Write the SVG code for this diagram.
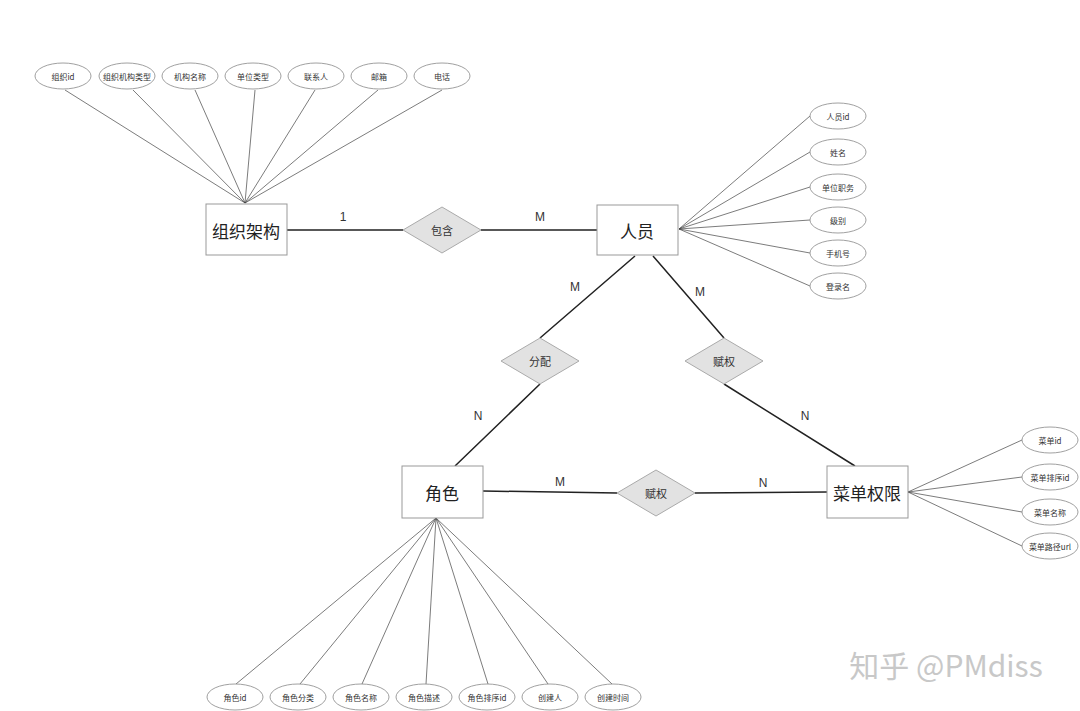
<svg xmlns="http://www.w3.org/2000/svg" width="1080" height="711" viewBox="0 0 1080 711">
<style>
text{font-family:"Noto Sans CJK SC","Liberation Sans",sans-serif;text-anchor:middle;dominant-baseline:central;fill:#333}
.e{fill:#fff;stroke:#888;stroke-width:0.8}
.et{font-size:8px}
.b{fill:#fff;stroke:#999;stroke-width:1}
.bt{font-size:17px;fill:#222}
.d{fill:#e2e2e2;stroke:#aaa;stroke-width:1}
.dt{font-size:11px}
.t{stroke:#444;stroke-width:0.7;fill:none}
.k{stroke:#222;stroke-width:1.5;fill:none}
.lb{font-size:12px;font-family:"Liberation Sans",sans-serif}
</style>
<rect width="1080" height="711" fill="#fff"/>
<g id="connectors">
<path class="t" d="M65 90L245 203M133 90L245 203M195 90L245 203M255 90L245 203M315 90L245 203M378 90L245 203M442 90L245 203"/>
<path class="t" d="M679 229L810 116M679 229L810 152M679 229L810 187M679 229L810 220M679 229L810 253M679 229L810 286"/>
<path class="t" d="M908 492L1022 440M908 492L1022 477M908 492L1022 512M908 492L1022 546"/>
<path class="t" d="M436 518L236 684M436 518L300 684M436 518L362 684M436 518L426 684M436 518L488 684M436 518L548 684M436 518L612 684"/>
<path class="k" d="M287 230L403 230M481 230L597 230M635 256L540 338M540 384L455 466M653 256L724 338M724 384L855 466M483 491L617 493M695 493L827 492"/>
<text class="lb" x="343" y="217">1</text><text class="lb" x="540" y="217">M</text>
<text class="lb" x="575" y="287">M</text><text class="lb" x="700" y="292">M</text>
<text class="lb" x="478" y="416">N</text><text class="lb" x="805" y="416">N</text>
<text class="lb" x="560" y="482">M</text><text class="lb" x="763" y="483">N</text>
</g>
<g id="org"><rect class="b" x="206" y="204" width="81" height="51"/><text class="bt" x="246" y="230">组织架构</text></g>
<g id="person"><rect class="b" x="597" y="205" width="81" height="50"/><text class="bt" x="637" y="230">人员</text></g>
<g id="role"><rect class="b" x="402" y="466" width="81" height="52"/><text class="bt" x="442" y="492">角色</text></g>
<g id="menu"><rect class="b" x="827" y="466" width="81" height="52"/><text class="bt" x="867" y="492">菜单权限</text></g>
<g id="contain"><polygon class="d" points="403,230 442,207 481,230 442,253"/><text class="dt" x="442" y="230">包含</text></g>
<g id="assign"><polygon class="d" points="501,361 540,338 579,361 540,384"/><text class="dt" x="540" y="361">分配</text></g>
<g id="grant1"><polygon class="d" points="685,361 724,338 763,361 724,384"/><text class="dt" x="724" y="361">赋权</text></g>
<g id="grant2"><polygon class="d" points="617,493 656,470 695,493 656,516"/><text class="dt" x="656" y="493">赋权</text></g>
<g id="org-attrs">
<ellipse class="e" cx="63" cy="76" rx="28" ry="13"/><text class="et" x="63" y="76">组织id</text>
<ellipse class="e" cx="127" cy="76" rx="28" ry="13"/><text class="et" x="127" y="76">组织机构类型</text>
<ellipse class="e" cx="190" cy="76" rx="28" ry="13"/><text class="et" x="190" y="76">机构名称</text>
<ellipse class="e" cx="253" cy="76" rx="28" ry="13"/><text class="et" x="253" y="76">单位类型</text>
<ellipse class="e" cx="316" cy="76" rx="28" ry="13"/><text class="et" x="316" y="76">联系人</text>
<ellipse class="e" cx="379" cy="76" rx="28" ry="13"/><text class="et" x="379" y="76">邮箱</text>
<ellipse class="e" cx="442" cy="76" rx="28" ry="13"/><text class="et" x="442" y="76">电话</text>
</g>
<g id="person-attrs">
<ellipse class="e" cx="838" cy="116" rx="28" ry="13"/><text class="et" x="838" y="116">人员id</text>
<ellipse class="e" cx="838" cy="152" rx="28" ry="13"/><text class="et" x="838" y="152">姓名</text>
<ellipse class="e" cx="838" cy="187" rx="28" ry="13"/><text class="et" x="838" y="187">单位职务</text>
<ellipse class="e" cx="838" cy="220" rx="28" ry="13"/><text class="et" x="838" y="220">级别</text>
<ellipse class="e" cx="838" cy="253" rx="28" ry="13"/><text class="et" x="838" y="253">手机号</text>
<ellipse class="e" cx="838" cy="286" rx="28" ry="13"/><text class="et" x="838" y="286">登录名</text>
</g>
<g id="menu-attrs">
<ellipse class="e" cx="1050" cy="440" rx="28" ry="13"/><text class="et" x="1050" y="440">菜单id</text>
<ellipse class="e" cx="1050" cy="477" rx="28" ry="13"/><text class="et" x="1050" y="477">菜单排序id</text>
<ellipse class="e" cx="1050" cy="512" rx="28" ry="13"/><text class="et" x="1050" y="512">菜单名称</text>
<ellipse class="e" cx="1050" cy="546" rx="28" ry="13"/><text class="et" x="1050" y="546">菜单路径url</text>
</g>
<g id="role-attrs">
<ellipse class="e" cx="235" cy="697" rx="28" ry="13"/><text class="et" x="235" y="697">角色id</text>
<ellipse class="e" cx="298" cy="697" rx="28" ry="13"/><text class="et" x="298" y="697">角色分类</text>
<ellipse class="e" cx="361" cy="697" rx="28" ry="13"/><text class="et" x="361" y="697">角色名称</text>
<ellipse class="e" cx="424" cy="697" rx="28" ry="13"/><text class="et" x="424" y="697">角色描述</text>
<ellipse class="e" cx="487" cy="697" rx="28" ry="13"/><text class="et" x="487" y="697">角色排序id</text>
<ellipse class="e" cx="550" cy="697" rx="28" ry="13"/><text class="et" x="550" y="697">创建人</text>
<ellipse class="e" cx="613" cy="697" rx="28" ry="13"/><text class="et" x="613" y="697">创建时间</text>
</g>
<text x="946" y="664" style="font-size:30px;fill:#c8c8c8">知乎 @PMdiss</text>
</svg>
